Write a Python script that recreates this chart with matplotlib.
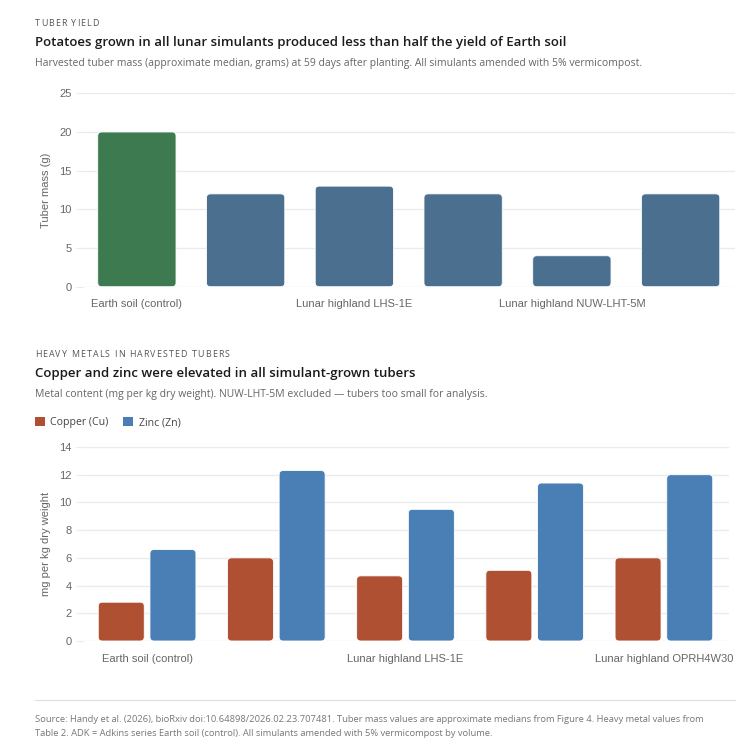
"""Lunar simulant potato trial: tuber yield and heavy metals."""
import numpy as np
import matplotlib
matplotlib.use("Agg")
from matplotlib import pyplot as plt
from matplotlib.patches import FancyBboxPatch, Patch
from matplotlib.lines import Line2D

# ---- data -------------------------------------------------------------
yield_sites = ["Earth soil (control)", "Lunar mare LMS-1", "Lunar highland LHS-1E",
               "Lunar highland OPRH2W30", "Lunar highland NUW-LHT-5M",
               "Lunar highland OPRH4W30"]
yield_mass = [20, 12, 13, 12, 4, 12]
yield_colors = ["#3d7a50", "#4a6f8f", "#4a6f8f", "#4a6f8f", "#4a6f8f", "#4a6f8f"]

metal_sites = ["Earth soil (control)", "Lunar mare LMS-1", "Lunar highland LHS-1E",
               "Lunar highland OPRH2W30", "Lunar highland OPRH4W30"]
copper = [2.8, 6.0, 4.7, 5.1, 6.0]
zinc = [6.6, 12.3, 9.5, 11.4, 12.0]

# ---- style ------------------------------------------------------------
HEAD = "Open Sans"
TICK = "Liberation Sans"
GRID = "#ebebeb"
TXT = "#666666"
W = 744
LX = 35 / W

plt.rcParams["font.family"] = [TICK, "DejaVu Sans"]


def fy(px):
    return 1 - px / W


def rounded(ax, bars, r_px=4):
    fig = ax.figure
    box = ax.get_position()
    w_px = box.width * fig.get_figwidth() * fig.dpi
    h_px = box.height * fig.get_figheight() * fig.dpi
    x0, x1 = ax.get_xlim()
    y0, y1 = ax.get_ylim()
    rx = r_px * (x1 - x0) / w_px
    ry = r_px * (y1 - y0) / h_px
    for b in bars:
        x, y = b.get_xy()
        p = FancyBboxPatch((x, y), b.get_width(), b.get_height(),
                           boxstyle="round,pad=0,rounding_size=%f" % rx,
                           mutation_aspect=ry / rx, fc=b.get_facecolor(),
                           ec="white", lw=0.6, clip_on=False, zorder=3)
        b.remove()
        ax.add_patch(p)


def style(ax):
    for s in ax.spines.values():
        s.set_visible(False)
    ax.grid(axis="y", color=GRID, lw=1)
    ax.set_axisbelow(True)
    ax.tick_params(axis="y", length=5, color=GRID, labelsize=8, labelcolor=TXT, pad=3)
    ax.tick_params(axis="x", length=0, labelsize=8, labelcolor=TXT, pad=9)


def spaced(fig, x_px, y_px, s, size, track, color):
    # letter-spaced overline text, drawn one glyph at a time
    r = fig.canvas.get_renderer()
    x = x_px
    for ch in s:
        if ch == " ":
            x += size * 0.26 * fig.dpi / 72 + track
            continue
        t = fig.text(x / W, fy(y_px), ch, family=HEAD, fontsize=size, color=color, va="baseline")
        x += t.get_window_extent(r).width + track


fig = plt.figure(figsize=(7.44, 7.44), dpi=100)

# ---- headers ----------------------------------------------------------
spaced(fig, 35, 25.6, "TUBER YIELD", 6.4, 1.0, "#555555")
fig.text(LX, fy(42.7), "Potatoes grown in all lunar simulants produced less than half the yield of Earth soil",
         family=HEAD, fontsize=9.5, weight="semibold", color="#1a1a1a", va="center")
fig.text(LX, fy(63.3), "Harvested tuber mass (approximate median, grams) at 59 days after planting. "
         "All simulants amended with 5% vermicompost.",
         family=HEAD, fontsize=7.5, color=TXT, va="center")

spaced(fig, 35, 357, "HEAVY METALS IN HARVESTED TUBERS", 6.4, 1.1, "#555555")
fig.text(LX, fy(373), "Copper and zinc were elevated in all simulant-grown tubers",
         family=HEAD, fontsize=9.5, weight="semibold", color="#1a1a1a", va="center")
fig.text(LX, fy(394), "Metal content (mg per kg dry weight). NUW-LHT-5M excluded \u2014 tubers too small for analysis.",
         family=HEAD, fontsize=7.5, color=TXT, va="center")

# ---- tuber yield --------------------------------------------------------
ax1 = fig.add_axes([82.5 / W, fy(286.7), (735 - 82.5) / W, (286.7 - 93.3) / W])
x1 = np.arange(len(yield_sites))
b1 = ax1.bar(x1, yield_mass, width=0.72, color=yield_colors)
ax1.set_xlim(-0.5, len(yield_sites) - 0.5)
ax1.set_ylim(0, 25)
ax1.set_yticks([0, 5, 10, 15, 20, 25])
ax1.set_xticks(x1)
ax1.set_xticklabels([s if i % 2 == 0 else "" for i, s in enumerate(yield_sites)])
ax1.set_ylabel("Tuber mass (g)", fontsize=8, color=TXT, labelpad=6)
style(ax1)
rounded(ax1, b1)

# ---- heavy metals -----------------------------------------------------
ax2 = fig.add_axes([82.5 / W, fy(641), (728.5 - 82.5) / W, (641 - 447) / W])
x2 = np.arange(len(metal_sites))
bc = ax2.bar(x2 - 0.2, copper, width=0.356, color="#b05033")
bz = ax2.bar(x2 + 0.2, zinc, width=0.356, color="#4a7fb5")
ax2.set_xlim(-0.5, len(metal_sites) - 0.5)
ax2.set_ylim(0, 14)
ax2.set_yticks(range(0, 15, 2))
ax2.set_xticks(x2)
ax2.set_xticklabels([s if i % 2 == 0 else "" for i, s in enumerate(metal_sites)])
ax2.set_ylabel("mg per kg dry weight", fontsize=8, color=TXT, labelpad=6)
style(ax2)
rounded(ax2, bc)
rounded(ax2, bz)

handles = [Patch(fc="#b05033"), Patch(fc="#4a7fb5")]
fig.legend(handles, ["Copper (Cu)", "Zinc (Zn)"], loc="center left",
           bbox_to_anchor=(35 / W, fy(422.7)), ncol=2, frameon=False,
           handlelength=0.95, handleheight=0.95, handletextpad=0.5,
           columnspacing=1.4, borderaxespad=0, borderpad=0,
           prop={"family": HEAD, "size": 7.6}, labelcolor="#444444")

# ---- footer -----------------------------------------------------------
fig.add_artist(Line2D([35 / W, 735 / W], [fy(700), fy(700)], transform=fig.transFigure,
                      color="#dddddd", lw=0.8))
fig.text(LX, fy(719), "Source: Handy et al. (2026), bioRxiv doi:10.64898/2026.02.23.707481. "
         "Tuber mass values are approximate medians from Figure 4. Heavy metal values from",
         family=HEAD, fontsize=6.75, color="#777777", va="center")
fig.text(LX, fy(734), "Table 2. ADK = Adkins series Earth soil (control). "
         "All simulants amended with 5% vermicompost by volume.",
         family=HEAD, fontsize=6.75, color="#777777", va="center")

fig.savefig("out.png", dpi=100, facecolor="white")
plt.close(fig)
